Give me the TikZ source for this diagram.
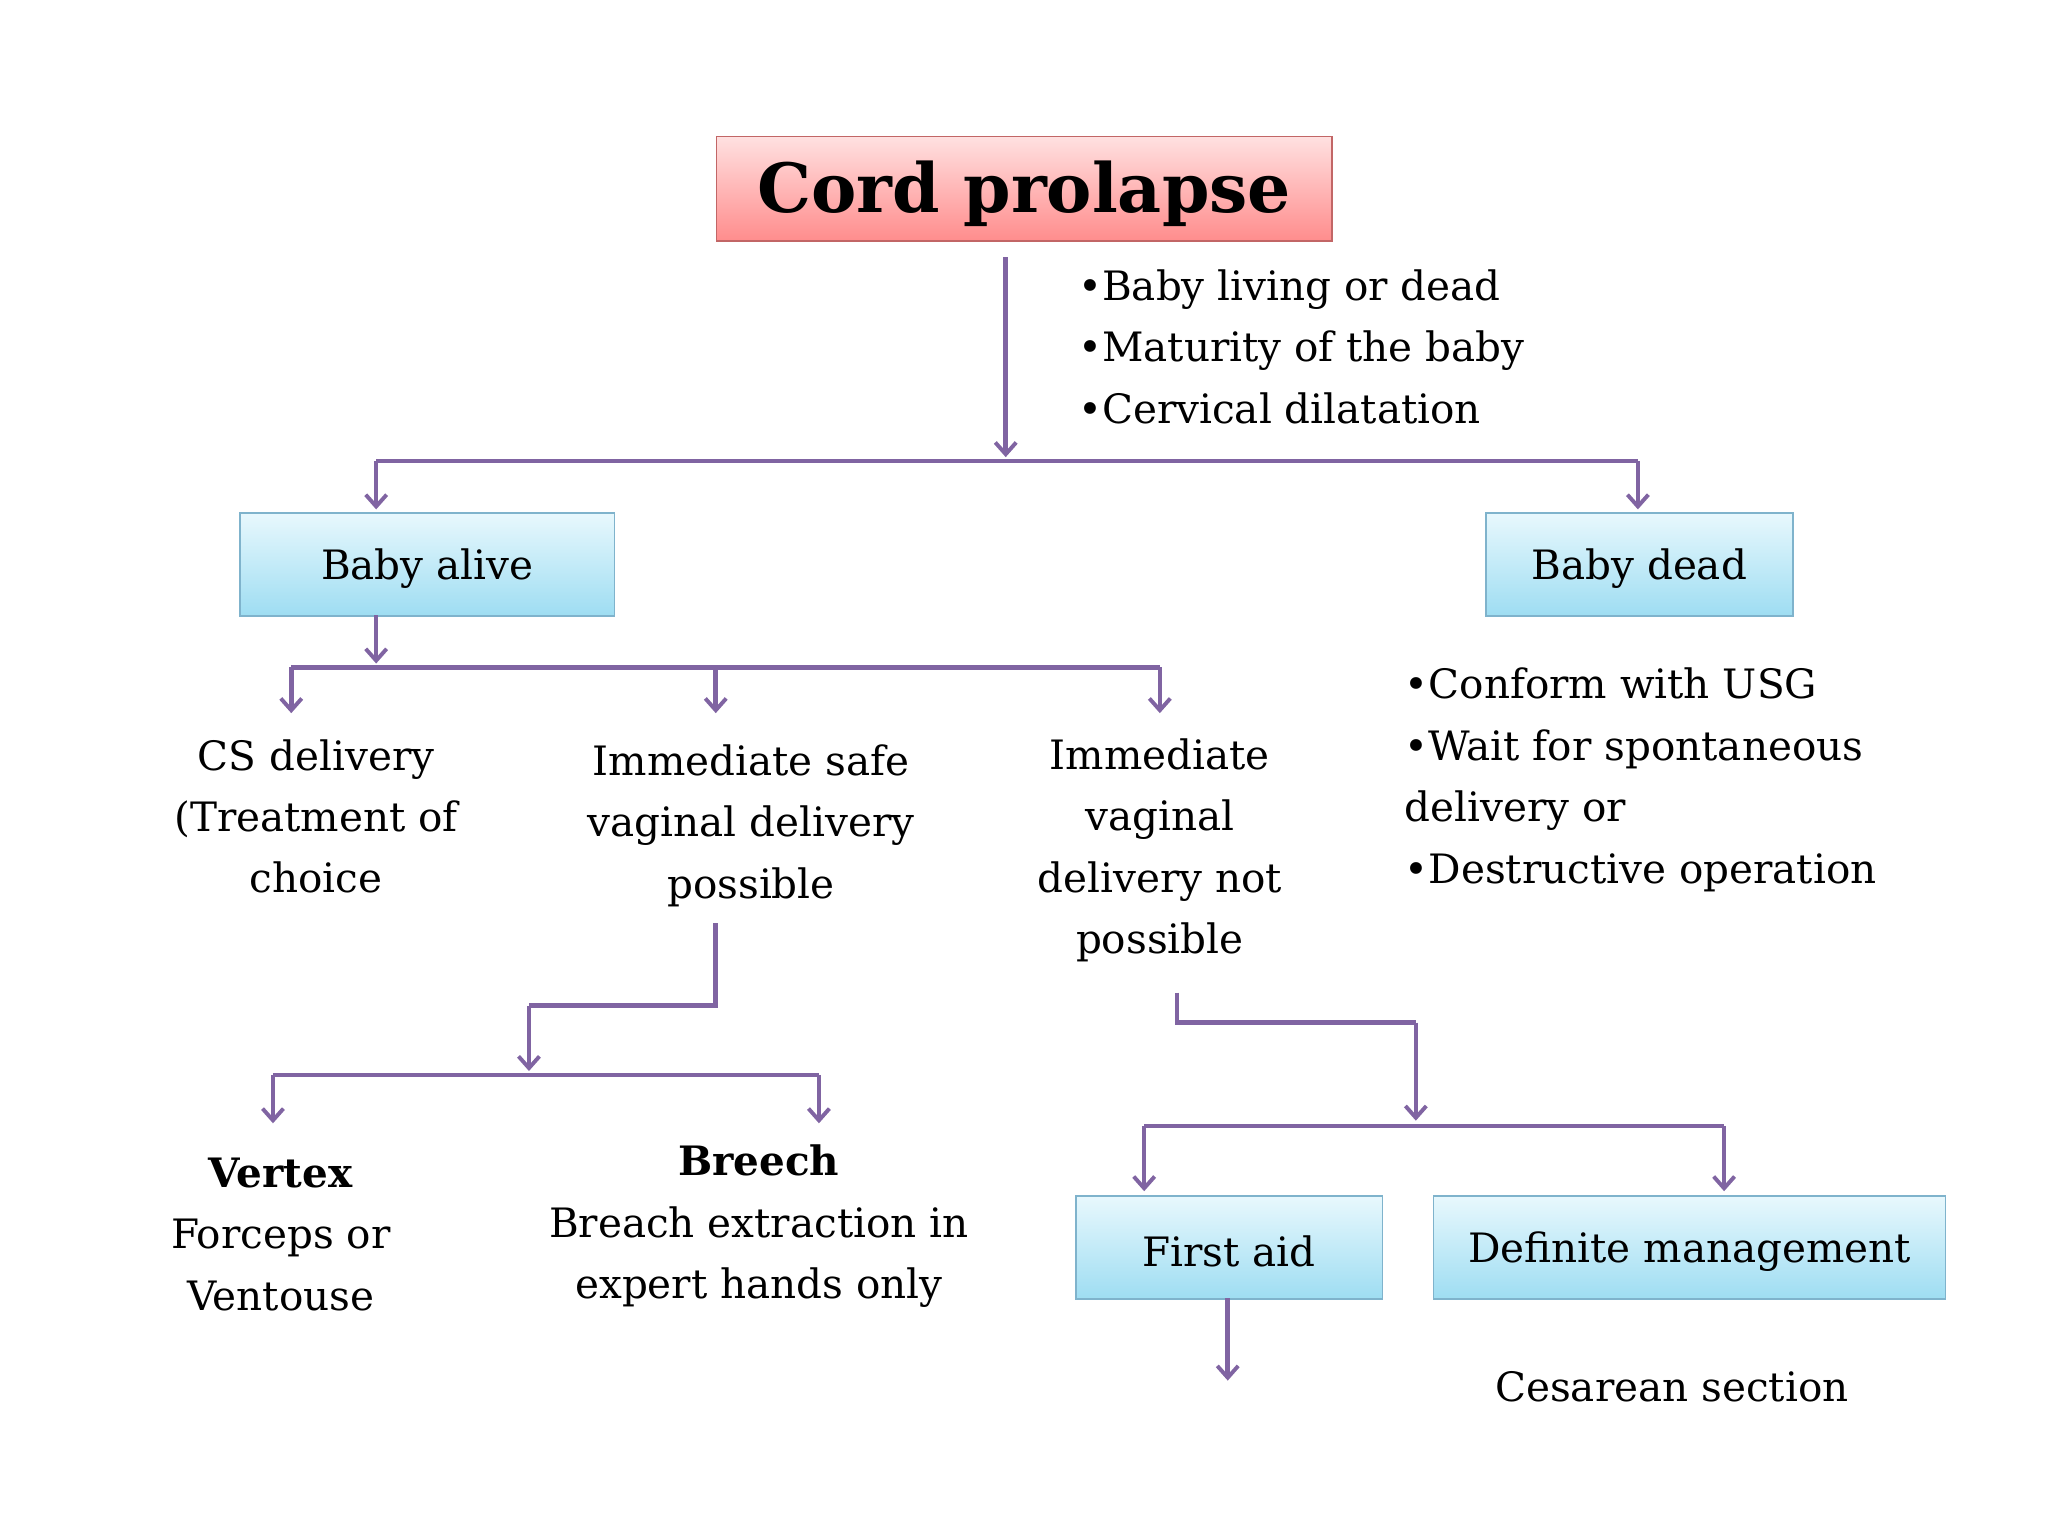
\documentclass[tikz,border=0pt]{standalone}
\usepackage{fontspec}
\setmainfont{DejaVu Serif}
\usetikzlibrary{arrows.meta}
\definecolor{arr}{HTML}{8064A2}
\definecolor{bbot}{HTML}{9EDDF2}
\definecolor{btop}{HTML}{E8F8FD}
\definecolor{bbd}{HTML}{7FB3CC}
\begin{document}
\begin{tikzpicture}[x=1pt,y=-1pt,
 box/.style={line width=1.2pt,inner sep=0pt,anchor=north west},
 bl/.style={box,draw=bbd,top color=btop,bottom color=bbot},
 ln/.style={draw=arr,line width=3.5pt},
 ar/.style={ln,-{Straight Barb[length=9pt,width=16pt,line width=3pt]}},
 tx/.style={font=\fontsize{31}{47}\selectfont,align=center},
 bt/.style={font=\fontsize{31}{47}\selectfont,align=left,anchor=north west}]
\useasboundingbox (0,0) rectangle (1568,1176);
\node[box,draw=red!60!black!60,top color=red!12,bottom color=red!45,minimum width=471pt,minimum height=80pt] (cp) at (548,104) {};
\node[font=\bfseries\fontsize{52}{60}\selectfont] at ([yshift=-4pt]cp.center) {Cord prolapse};
\node[bt] (c1) at (822,203) {•Baby living or dead\\•Maturity of the baby\\•Cervical dilatation};
\node[bl,minimum width=287pt,minimum height=79pt] (ba) at (183,392) {};
\node[tx] at ([yshift=-3pt]ba.center) {Baby alive};
\node[bl,minimum width=235pt,minimum height=79pt] (bd) at (1137,392) {};
\node[tx] at ([yshift=-3pt]bd.center) {Baby dead};
\coordinate (t0) at (770,197);
\draw[ar] (t0) -- (770,350);
\draw[ln] (288,353) -- (1254,353);
\draw[ar] (288,353) -- (288,390);
\draw[ar] (1254,353) -- (1254,390);
\draw[ar] (288,471) -- (288,508);
\draw[ln] (223,511) -- (888,511);
\foreach \x in {223,548,888} \draw[ar] (\x,511) -- (\x,546);
\node[tx] (cs) at (242,625) {CS delivery\\(Treatment of\\choice};
\node[tx] (is) at (575,632) {Immediate safe\\vaginal delivery\\possible};
\node[tx] (iv) at (888,651) {Immediate\\vaginal\\delivery not\\possible};
\node[bt] (bdt) at (1072,508) {•Conform with USG\\•Wait for spontaneous\\delivery or\\•Destructive operation};
\draw[ln] (548,707) -- (548,770) -- (405,770);
\draw[ar] (405,770) -- (405,820);
\draw[ln] (209,823) -- (627,823);
\draw[ar] (209,823) -- (209,860);
\draw[ar] (627,823) -- (627,860);
\node[tx] (vx) at (215,945) {\textbf{Vertex}\\Forceps or\\Ventouse};
\node[tx] (br) at (581,939) {\textbf{Breech}\\Breach extraction in\\expert hands only};
\draw[ln] (901,760) -- (901,783) -- (1084,783);
\draw[ar] (1084,783) -- (1084,858);
\draw[ln] (876,862) -- (1320,862);
\node[bl,minimum width=235pt,minimum height=79pt] (fa) at (823,915) {};
\node[tx] at ([yshift=-3pt]fa.center) {First aid};
\node[bl,minimum width=392pt,minimum height=79pt] (dm) at (1097,915) {};
\node[tx] at ([yshift=-3pt]dm.center) {Definite management};
\draw[ar] (876,862) -- (876,912);
\draw[ar] (1320,862) -- (1320,912);
\draw[ar] (940,994) -- (940,1057);
\node[tx] (ce) at (1280,1062) {Cesarean section};
\end{tikzpicture}
\end{document}
